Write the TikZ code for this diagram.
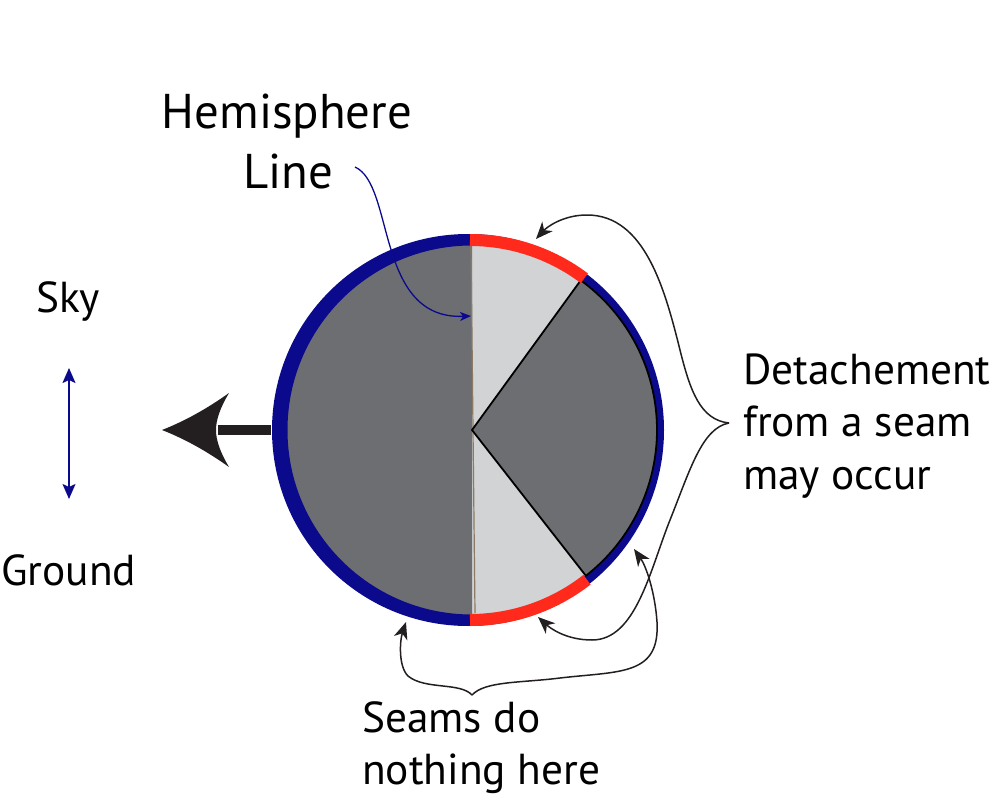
\documentclass[tikz,border=0pt]{standalone}
\usepackage{fontspec}
\setmainfont{PT Sans}
\usetikzlibrary{arrows.meta,calc}
\definecolor{navy}{HTML}{0C0A8C}
\definecolor{seamred}{HTML}{FF2A1C}
\definecolor{darkg}{HTML}{6D6E71}
\definecolor{lightg}{HTML}{D1D3D4}
\definecolor{ink}{HTML}{231F20}
\definecolor{hemi}{HTML}{8A7A66}
\begin{document}
\begin{tikzpicture}[x=1bp,y=-1bp,
  lbl/.style={inner sep=0pt, anchor=base west, font=\fontsize{43.5}{50}\selectfont},
  big/.style={inner sep=0pt, anchor=base, font=\fontsize{49}{55}\selectfont},
  conn/.style={ink, line width=1.5bp},
  tip/.style={-{Stealth[length=17bp,width=14bp,inset=5bp]}},
  seam/.style={seamred, line width=12bp}]
\useasboundingbox (0,0) rectangle (992,796);
% circle geometry
\coordinate (C) at (472,430);
\coordinate (O) at (468,430);
\coordinate (R) at (470,430);
\fill[lightg] (C) circle[radius=185];
\fill[darkg] ($(C)+(-90:185)$) arc[start angle=-90, end angle=-270, radius=185] -- cycle;
\draw[hemi, line width=1.2bp] (471,245) -- (475,613);
\fill[navy, even odd rule] (O) circle[radius=196] (C) circle[radius=184.5];
\filldraw[fill=darkg, draw=black, line width=1.8bp, line join=miter]
  (C) -- ($(C)+(-54:185)$) arc[start angle=-54, end angle=52, radius=185] -- cycle;
\draw[seam] ($(R)+(-90:190)$) arc[start angle=-90, end angle=-53, radius=190];
\draw[seam] ($(R)+(90:190)$) arc[start angle=90, end angle=52, radius=190];
% big black arrow
\coordinate (ws) at (271,430);
\coordinate (wt) at (162,430);
\draw[ink, line width=10bp] (ws) -- (218,430);
\fill[ink] (wt) .. controls (190,419) and (212,405) .. (229,393)
  .. controls (220,408) and (216,420) .. (216,430)
  .. controls (216,440) and (220,452) .. (229,467)
  .. controls (212,455) and (190,441) .. (wt) -- cycle;
% texts
\node[big] (hemi1) at (287,128) {Hemisphere};
\node[big] (hemi2) at (288,188) {Line};
\node[lbl] (sky) at (36,312) {Sky};
\node[lbl] (ground) at (1,585) {Ground};
\node[lbl] (det1) at (743,384) {Detachement};
\node[lbl] (det2) at (743,436) {from a seam};
\node[lbl] (det3) at (743,489) {may occur};
\node[lbl] (seam1) at (362,732) {Seams do};
\node[lbl] (seam2) at (362,784) {nothing here};
% sky-ground arrow
\coordinate (up) at (69,368);
\coordinate (dn) at (69,499);
\draw[navy, line width=1.8bp, {Stealth[length=15bp,width=13bp,inset=3bp]}-{Stealth[length=15bp,width=13bp,inset=3bp]}] (up) -- (dn);
% hemisphere line pointer
\coordinate (hs) at (355,167);
\coordinate (he) at (471,316);
\draw[navy, line width=1.3bp, -{Stealth[length=11bp,width=9bp,inset=3bp]}] (hs) .. controls (395,185) and (375,320) .. (he);
% detachment brace
\coordinate (B1) at (729,423);
\coordinate (t1) at (536,239);
\coordinate (t2) at (538,617);
\draw[conn, tip] (B1) .. controls (700,420) and (690,390) .. (680,350)
  .. controls (665,290) and (645,215) .. (587,215)
  .. controls (562,215) and (546,228) .. (t1);
\draw[conn, tip] (B1) .. controls (702,428) and (690,470) .. (670,520)
  .. controls (650,570) and (636,640) .. (592,640)
  .. controls (566,640) and (550,628) .. (t2);
% seams brace
\coordinate (B2) at (472,695);
\coordinate (t3) at (406,622);
\coordinate (t4) at (634,549);
\draw[conn, tip] (B2) .. controls (460,682) and (425,690) .. (408,676)
  .. controls (398,666) and (400,640) .. (t3);
\draw[conn, tip] (B2) .. controls (485,681) and (520,683) .. (560,678)
  .. controls (620,671) and (660,676) .. (657,622)
  .. controls (655,592) and (646,566) .. (t4);
\end{tikzpicture}
\end{document}
